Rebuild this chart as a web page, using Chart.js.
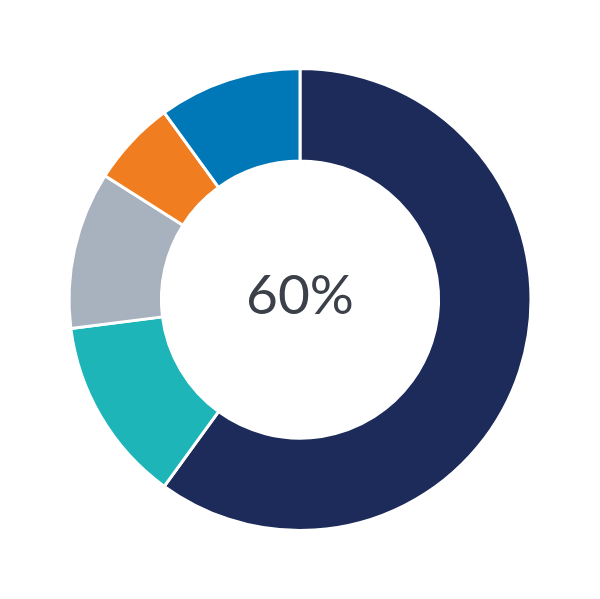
<!DOCTYPE html>
<html>
<head>
<meta charset="utf-8">
<script src="https://cdn.jsdelivr.net/npm/chart.js@4"></script>
<style>
    html, body { margin: 0; padding: 0; background: #fff; }
    #wrap { width: 600px; height: 599px; }
</style>
</head>
<body>
<div id="wrap"><canvas id="chart"></canvas></div>
<script>
const labels = ['A', 'B', 'C', 'D', 'E'];
const values = [60, 13, 11, 6, 10];
const colors = ['#1c2b5a', '#1db5b8', '#a8b2bf', '#f07e20', '#0077b6'];
const centerText = '60%';

// draws the big percentage in the hole
const centerLabel = {
    id: 'centerLabel',
    afterDraw(chart) {
        const meta = chart.getDatasetMeta(0);
        const arc = meta.data[0];
        const ctx = chart.ctx;
        ctx.save();
        ctx.font = '400 55px Lato';
        ctx.fillStyle = '#3b4049';
        ctx.textAlign = 'center';
        ctx.textBaseline = 'middle';
        ctx.fillText(centerText, arc.x, arc.y - 3);
        ctx.restore();
    }
};

function main() {
    const context = document.getElementById('chart').getContext('2d');
    new Chart(context, {
        type: 'doughnut',
        data: {
            labels,
            datasets: [{
                data: values,
                backgroundColor: colors,
                borderColor: '#ffffff',
                borderWidth: 3
            }]
        },
        options: {
            responsive: true,
            maintainAspectRatio: false,
            animation: false,
            cutout: '60%',
            layout: { padding: 67 },
            plugins: {
                legend: { display: false },
                tooltip: { enabled: false }
            }
        },
        plugins: [centerLabel]
    });
}

document.addEventListener('DOMContentLoaded', main);
</script>
</body>
</html>
